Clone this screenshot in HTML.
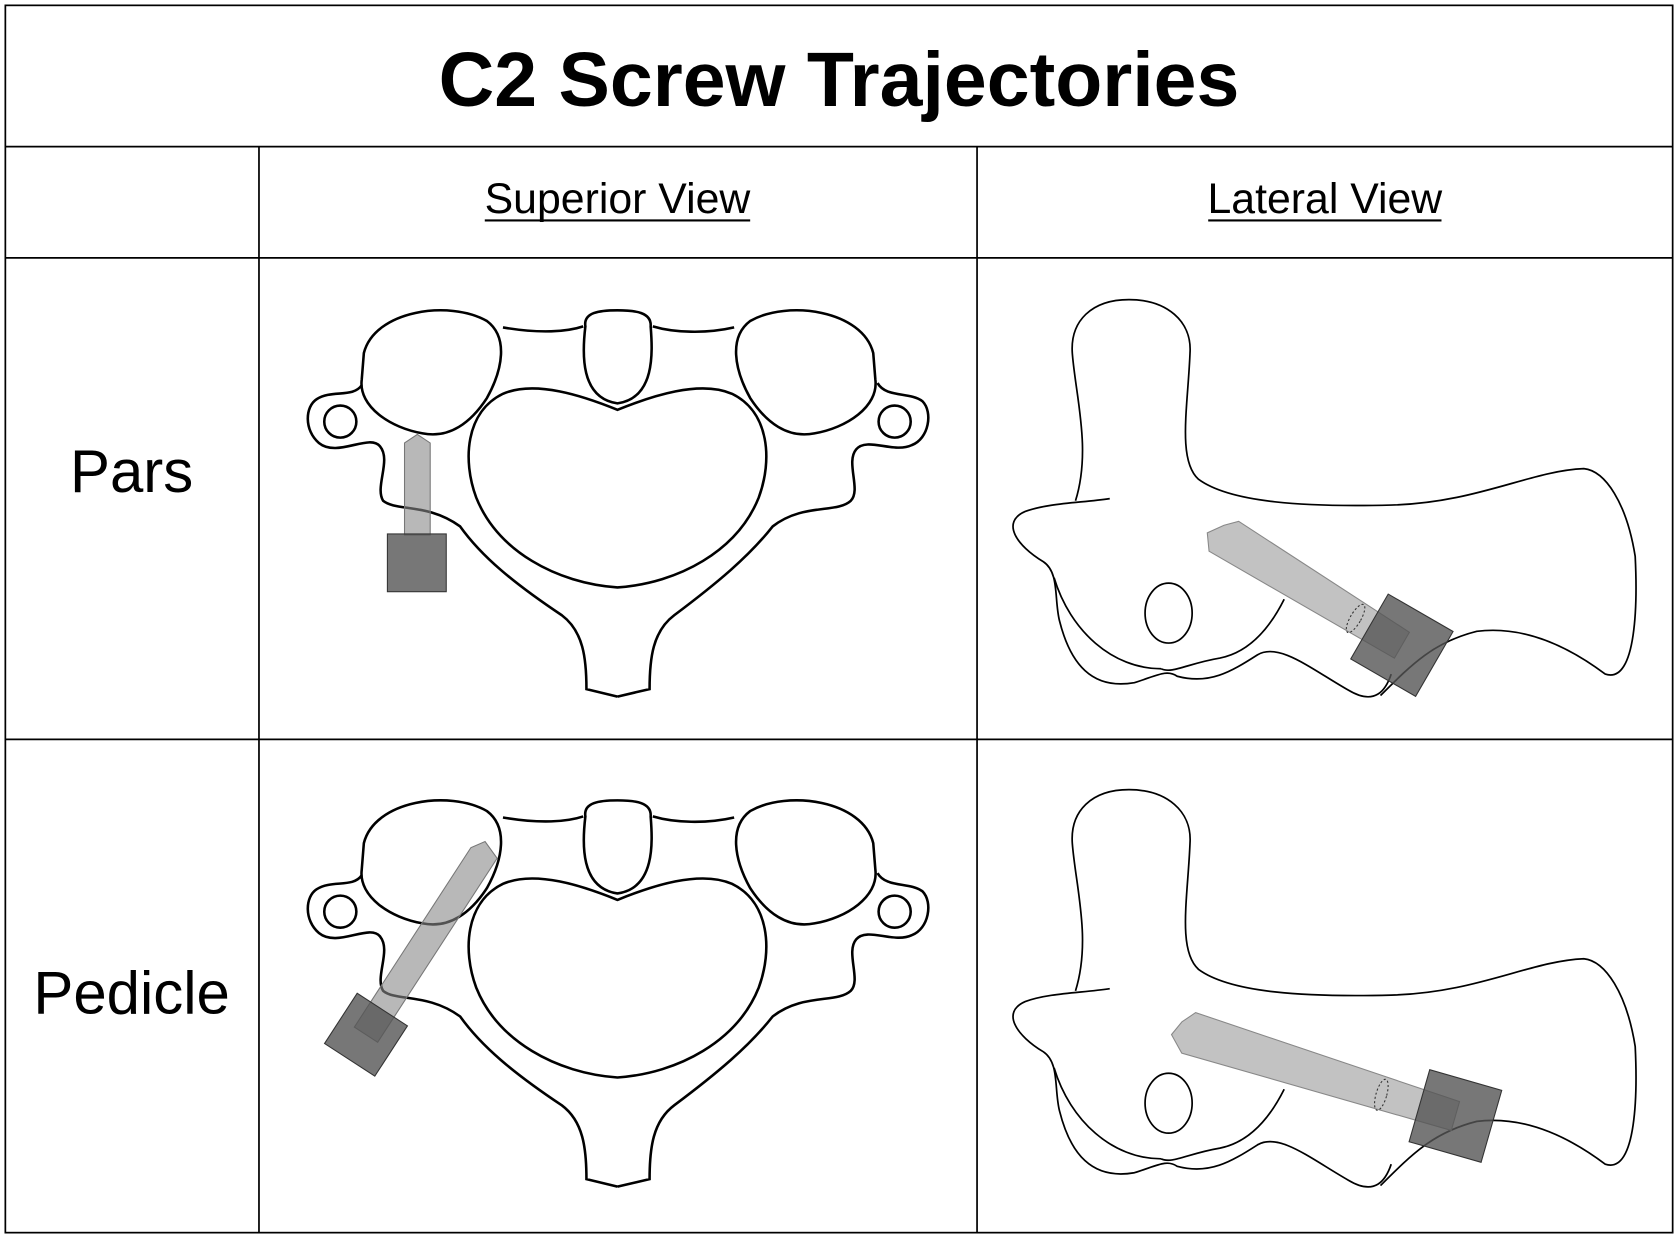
<!DOCTYPE html>
<html><head><meta charset="utf-8"><style>
html,body{margin:0;padding:0;background:#fff;}
svg{display:block;}
text{font-family:"Liberation Sans",Arial,sans-serif;}
</style></head><body>
<svg width="1678" height="1238" viewBox="0 0 1568 1157" preserveAspectRatio="none" xmlns="http://www.w3.org/2000/svg">
<rect x="0" y="0" width="1568" height="1157" fill="#fff"/>
<g stroke="#000" stroke-width="1.6" fill="none">
<rect x="5" y="5" width="1558" height="1147"/>
<line x1="5" y1="137" x2="1563" y2="137"/>
<line x1="5" y1="241" x2="1563" y2="241"/>
<line x1="5" y1="691" x2="1563" y2="691"/>
<line x1="242" y1="137" x2="242" y2="1152"/>
<line x1="913" y1="137" x2="913" y2="1152"/>
</g>
<text x="784" y="99" text-anchor="middle" font-size="72" font-weight="bold">C2 Screw Trajectories</text>
<text x="577" y="199" text-anchor="middle" font-size="40">Superior View</text>
<line x1="453" y1="206" x2="701" y2="206" stroke="#000" stroke-width="2"/>
<text x="1238" y="199" text-anchor="middle" font-size="40">Lateral View</text>
<line x1="1129" y1="206" x2="1347" y2="206" stroke="#000" stroke-width="2"/>
<text x="123" y="460" text-anchor="middle" font-size="56">Pars</text>
<text x="123" y="947" text-anchor="middle" font-size="56">Pedicle</text>

<defs>
<g id="sup" fill="none" stroke="#000" stroke-width="2.4">
<path d="M577,651 L548,644 C548,615 545,590 525,575 C480,545 450,520 430,492 C400,470 370,478 358,468 C350,455 366,430 355,417 C345,405 315,428 298,414 C284,402 285,380 296,373 C310,364 330,372 338,360 M470,306 C505,312 530,310 545,305 M610,305 C630,311 660,312 686,306 M820,358 C828,372 850,366 862,375 C872,385 868,410 852,416 C835,424 810,408 800,420 C790,432 805,458 795,468 C782,480 750,470 722,492 C700,520 670,545 630,575 C610,590 607,615 607,644 L577,651"/>
<path d="M340,330 C350,290 420,280 455,300 C475,315 470,345 455,372 C440,395 420,410 395,405 C365,400 335,380 338,355 Z"/>
<path d="M816,330 C806,290 736,280 701,300 C681,315 686,345 701,372 C716,395 736,410 761,405 C791,400 821,380 818,355 Z"/>
<path d="M547,305 C545,292 560,290 577,290 C594,290 609,292 608,305 C610,330 612,372 577,377 C542,372 544,330 547,305 Z"/>
<path d="M577,383 C545,370 500,355 470,368 C435,385 432,430 445,465 C465,515 520,545 577,549 C634,545 689,515 709,465 C722,430 719,385 684,368 C654,355 609,370 577,383 Z"/>
<circle cx="318" cy="394" r="15"/>
<circle cx="836" cy="394" r="15"/>
</g>
<g id="lat" fill="none" stroke="#000" stroke-width="1.6">
<path d="M1037,466 C1010,470 980,470 958,478 C935,488 950,510 975,525 C990,535 985,560 990,580 C1000,620 1020,645 1060,638 C1080,632 1090,625 1100,632 C1130,640 1150,628 1175,612 C1195,600 1225,625 1260,645 C1285,660 1295,645 1300,630 M1290,650 C1320,620 1340,600 1380,590 C1420,585 1460,600 1500,630 C1530,640 1530,560 1528,520 C1520,470 1500,440 1480,438 C1430,440 1380,470 1300,472 C1220,474 1150,470 1120,448 C1100,430 1110,380 1112,330 C1114,300 1090,280 1055,280 C1020,280 1000,300 1002,330 C1005,370 1020,420 1005,468"/>
<path d="M1200,560 C1185,590 1165,610 1140,615 C1110,620 1095,630 1085,625"/>
<path d="M985,540 C1000,590 1040,625 1085,625"/>
<ellipse cx="1092" cy="573" rx="22" ry="28"/>
</g>
</defs>

<use href="#sup"/>
<use href="#sup" transform="translate(0,458)"/>
<use href="#lat"/>
<use href="#lat" transform="translate(0,458)"/>

<polygon points="378,414 390,406 402,414 402,500 378,500" fill="#888" fill-opacity="0.6" stroke="#777"/>
<rect x="362" y="499" width="55" height="54" fill="#555" fill-opacity="0.8" stroke="#333"/>
<g transform="translate(342,967) rotate(33)">
<polygon points="-13,0 -13,-200 -5,-212 13,-205 13,0" fill="#888" fill-opacity="0.6" stroke="#777"/>
<rect x="-28" y="-28" width="56" height="56" fill="#555" fill-opacity="0.8" stroke="#333"/>
</g>
<g transform="translate(1310,603) rotate(30)">
<polygon points="-200,-14 -190,-24 0,-14 0,14 -200,14 -210,0" fill="#999" fill-opacity="0.6" stroke="#888"/>
<ellipse cx="-50" cy="0" rx="5" ry="15" fill="none" stroke="#333" stroke-dasharray="2,2"/>
<rect x="-35" y="-35" width="70" height="70" fill="#555" fill-opacity="0.8" stroke="#333"/>
</g>
<g transform="translate(1360,1043) rotate(16)">
<polygon points="-270,-14 -260,-26 0,-14 0,14 -262,14 -276,0" fill="#999" fill-opacity="0.6" stroke="#888"/>
<ellipse cx="-72" cy="0" rx="5" ry="15" fill="none" stroke="#333" stroke-dasharray="2,2"/>
<rect x="-35" y="-35" width="70" height="70" fill="#555" fill-opacity="0.8" stroke="#333"/>
</g>
</svg>
</body></html>
